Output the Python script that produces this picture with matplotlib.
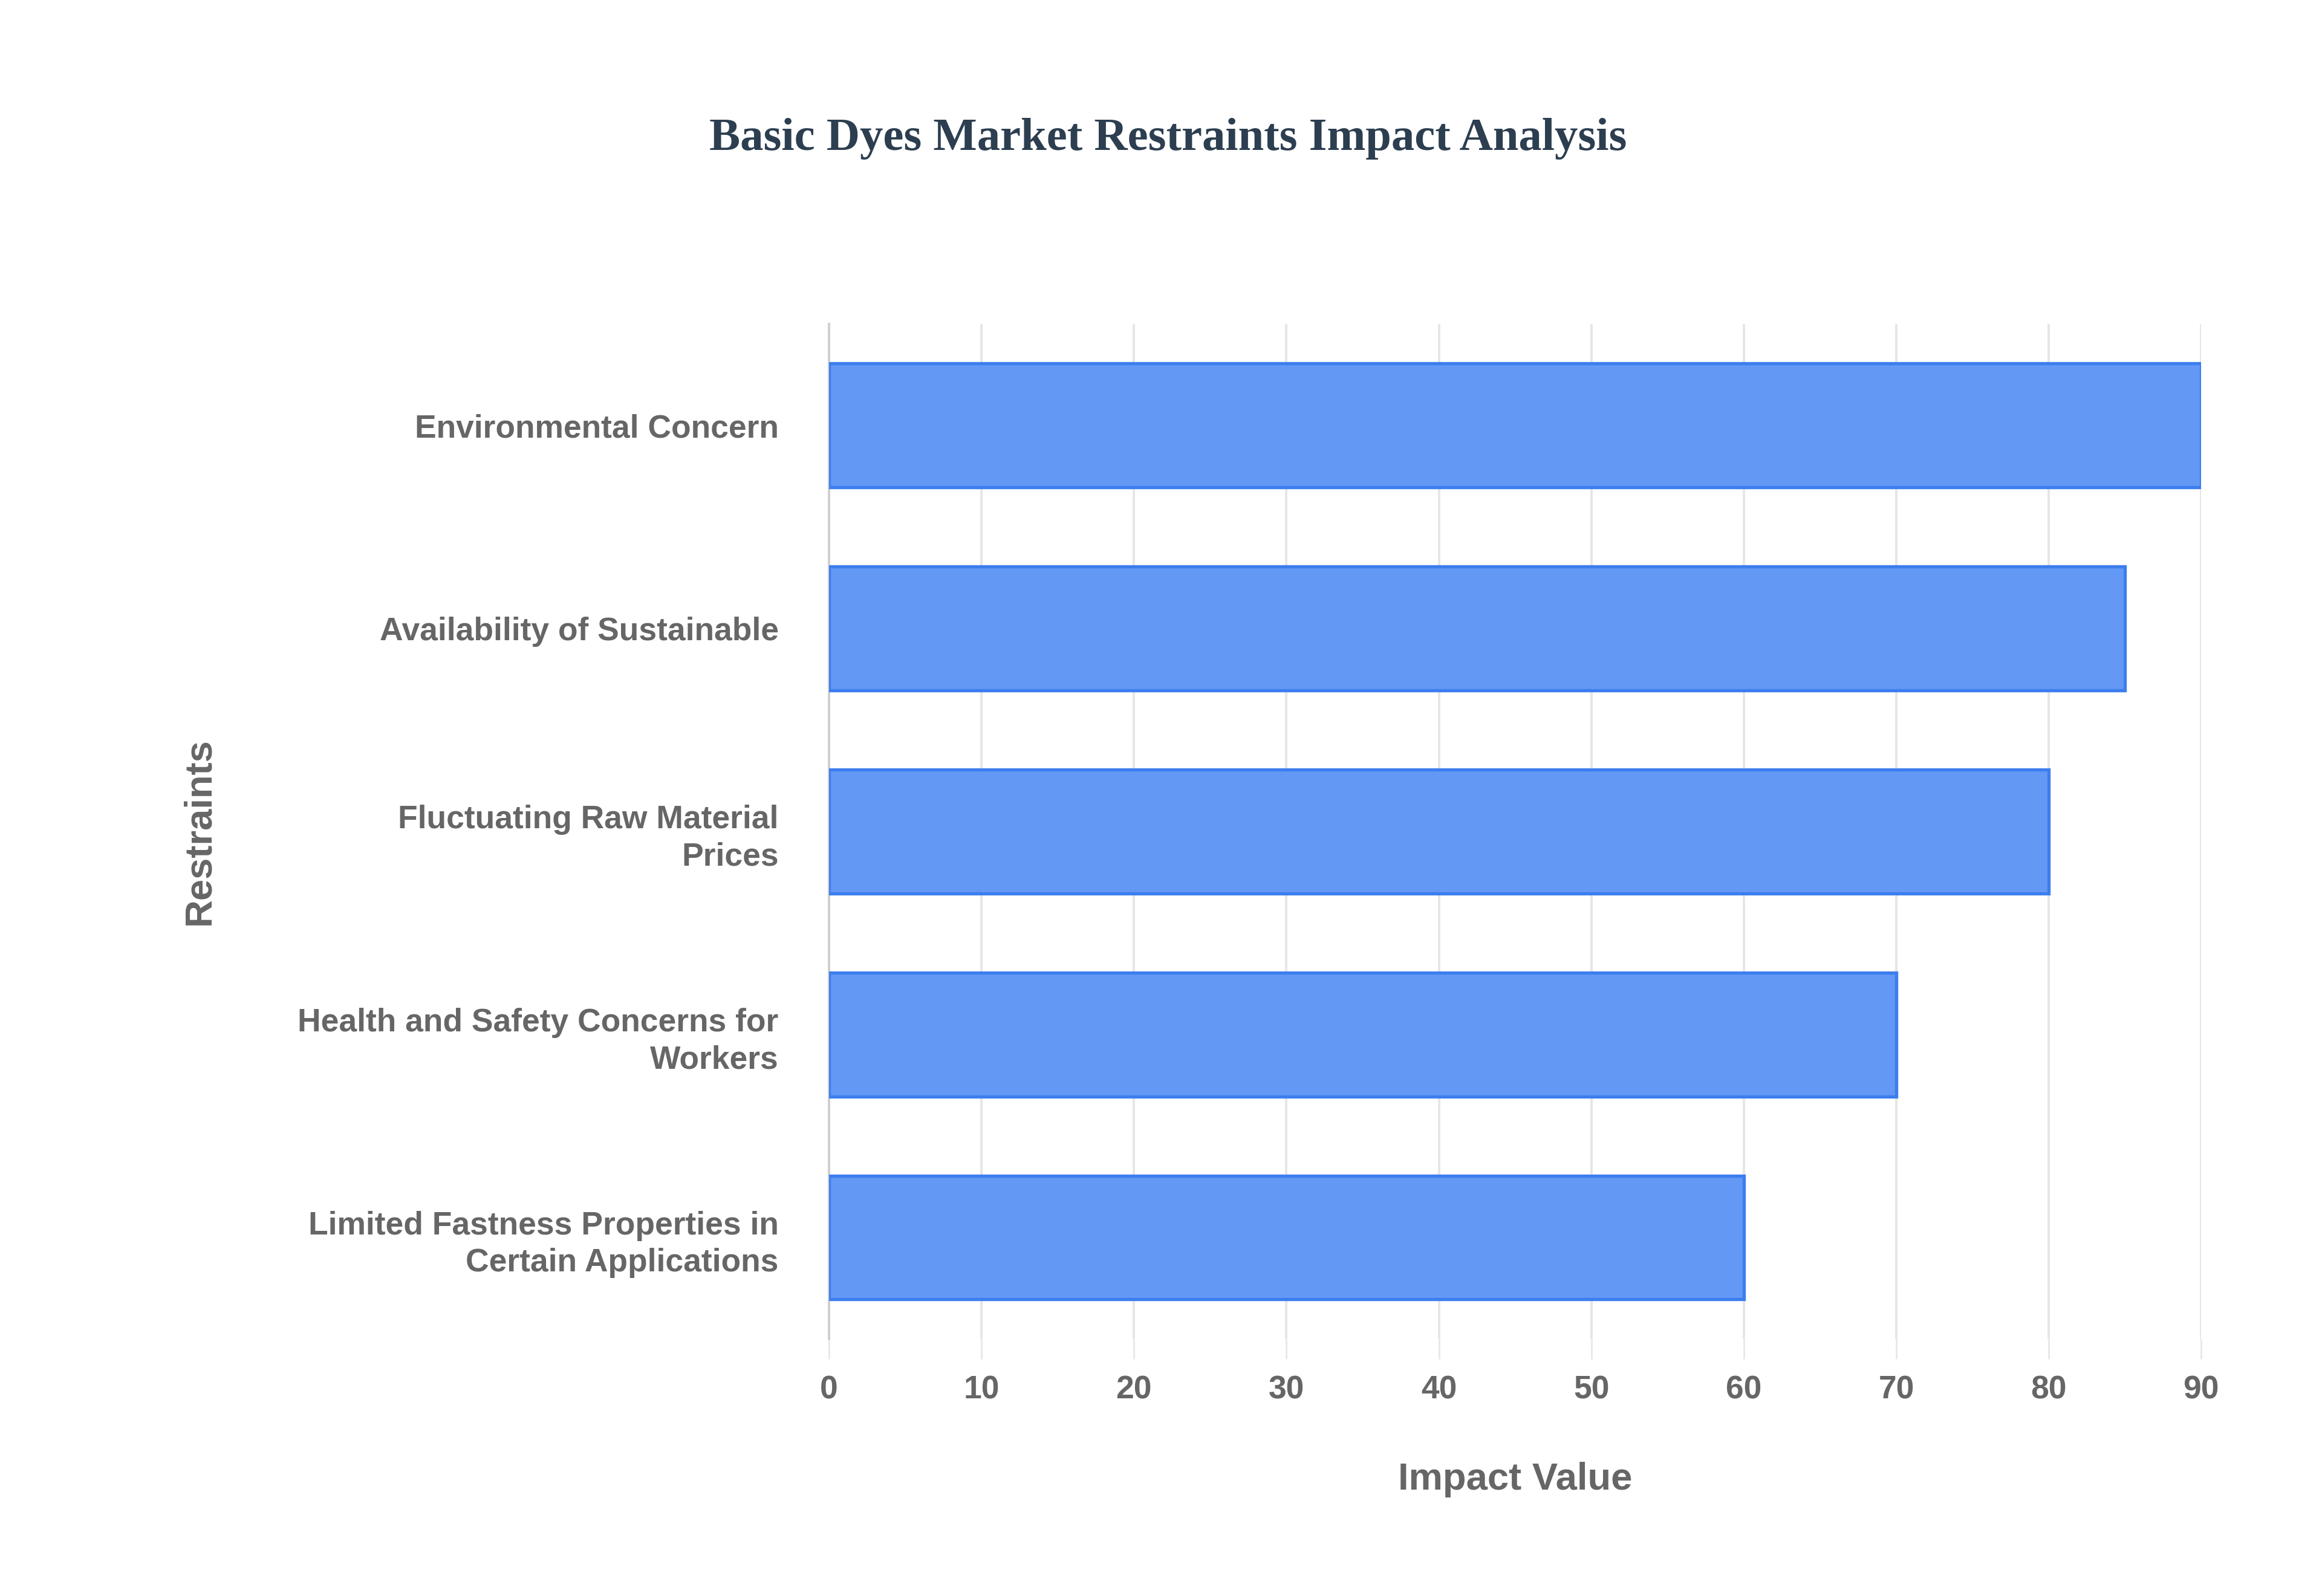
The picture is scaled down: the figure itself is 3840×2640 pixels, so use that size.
import matplotlib
matplotlib.use("Agg")
import matplotlib.pyplot as plt
import numpy as np

CATEGORIAS = [
    "Environmental Concern",
    "Availability of Sustainable",
    "Fluctuating Raw Material\nPrices",
    "Health and Safety Concerns for\nWorkers",
    "Limited Fastness Properties in\nCertain Applications",
]
VALORES = [90, 85, 80, 70, 60]
TICKS = [0, 10, 20, 30, 40, 50, 60, 70, 80, 90]

CINZA = "#666666"
plt.rcParams.update({"font.family": ["Liberation Sans", "DejaVu Sans"]})

fig = plt.figure(figsize=(16, 11), dpi=240)
ax = fig.add_axes([0.357, 0.161, 0.591, 0.636])

y = np.arange(len(CATEGORIAS))
ax.barh(y, VALORES, height=0.61, color="#6399f5", edgecolor="#3c7eee",
        linewidth=1.6, zorder=3)

ax.set_ylim(len(CATEGORIAS) - 0.5, -0.5)
ax.set_xlim(0, 90)
ax.set_yticks(y)
ax.set_yticklabels(CATEGORIAS, fontsize=16, fontweight="bold", color=CINZA,
                   linespacing=1.3)
ax.set_xticks(TICKS)
ax.set_xticklabels([str(t) for t in TICKS], fontsize=16, fontweight="bold",
                   color=CINZA)
ax.tick_params(axis="y", length=0, pad=25)
ax.tick_params(axis="x", length=10, color="#e6e6e6", pad=8)
ax.grid(axis="x", color="#e6e6e6", linewidth=1.2, zorder=0)
for s in ("top", "right", "bottom"):
    ax.spines[s].set_visible(False)
ax.spines["left"].set_color("#d0d0d0")
ax.spines["left"].set_linewidth(1.2)

ax.set_xlabel("Impact Value", fontsize=19, fontweight="bold", color=CINZA,
              labelpad=28)
ax.set_ylabel("Restraints", fontsize=19, fontweight="bold", color=CINZA,
              labelpad=40)
fig.text(0.503, 0.913, "Basic Dyes Market Restraints Impact Analysis",
         ha="center", va="center", fontsize=23, fontweight="bold",
         family=["Liberation Serif", "DejaVu Serif"], color="#2c3e50")

fig.savefig("out.png", dpi=240, facecolor="white")
